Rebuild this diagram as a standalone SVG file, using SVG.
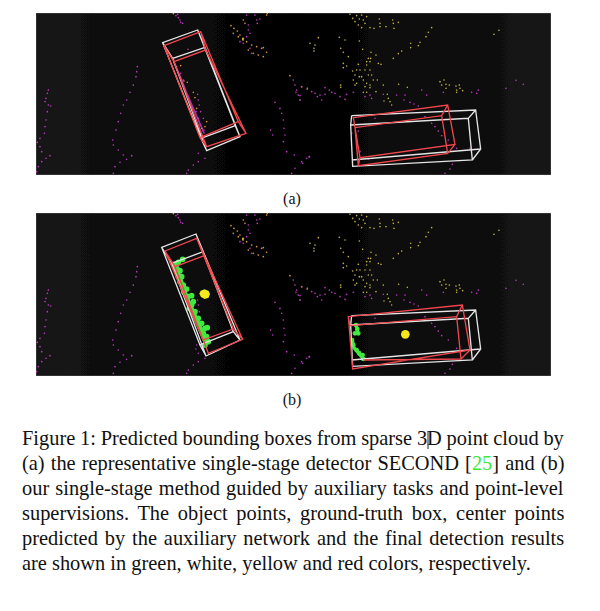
<svg xmlns="http://www.w3.org/2000/svg" width="600" height="611" viewBox="0 0 600 611">
<style>
.cap{font-family:"Liberation Serif","Times New Roman",serif;font-size:20.4px;fill:#111}
.lab{font-family:"Liberation Serif","Times New Roman",serif;font-size:16px;fill:#111;text-anchor:middle}
.m{fill:none;stroke:#bc38c4;stroke-width:5;stroke-linecap:round}
.y{fill:none;stroke:#bcaa48;stroke-width:5;stroke-linecap:round}
.o{fill:none;stroke:#d89634;stroke-width:5;stroke-linecap:round}
.w{fill:none;stroke:#e4e4e4;stroke-width:4}
.r{fill:none;stroke:#f0474e;stroke-width:4}
.g{fill:none;stroke:#3fe83f;stroke-width:17;stroke-linecap:round}
</style>
<defs>
<linearGradient id="bg" x1="0" x2="1" y1="0" y2="0">
<stop offset="0" stop-color="#161616"/><stop offset=".25" stop-color="#0a0a0a"/><stop offset=".5" stop-color="#020202"/><stop offset=".8" stop-color="#0c0c0c"/><stop offset="1" stop-color="#161616"/>
</linearGradient>
<filter id="soft" x="0" y="0" width="1" height="1"><feGaussianBlur stdDeviation="0.35"/></filter>
<g id="cloud">
<g transform="translate(30,5) scale(.3333)">
<path class="m" d="M55 255h0M52 265h0M48 280h0M45 290h0M55 300h0M62 303h0M52 320h0M48 345h0M45 365h0M43 385h0M30 400h0M22 412h0M30 425h0M35 440h0M60 452h0M48 460h0M35 470h0M25 485h0M20 500h0M322 185h0M320 200h0M318 215h0M310 240h0M300 262h0M290 285h0M280 300h0M272 325h0M265 350h0M258 375h0M248 405h0M250 420h0M265 435h0M280 450h0M305 452h0M290 463h0M270 472h0M255 485h0M250 505h0M438 32h0M445 38h0M450 45h0M458 55h0M443 28h0M452 52h0M525 460h0M505 470h0M490 480h0M475 495h0M470 505h0M525 415h0M505 445h0M735 292h0M750 310h0M755 325h0M760 345h0M762 370h0M765 390h0M760 410h0M770 440h0M793 450h0M722 375h0M728 390h0M838 455h0M815 470h0M795 490h0M785 505h0M790 225h0M795 240h0M800 255h0M805 270h0M810 285h0M798 262h0M650 30h0M655 60h0M660 85h0M640 115h0M660 130h0M675 30h0M680 45h0M690 42h0M682 55h0M655 75h0M650 95h0M630 110h0M665 145h0"/>
<path class="o" d="M430 26h0M780 212h0M815 245h0M832 250h0M710 30h0M712 25h0M603 62h0M612 70h0M622 78h0M610 85h0M630 90h0M640 100h0M650 110h0M665 120h0M680 125h0M695 130h0M710 142h0M685 150h0M700 155h0M670 145h0M655 135h0M640 45h0M645 55h0M625 95h0M700 128h0"/>
<path d="M636 98l6 2-1 8-5-2z" fill="#d0b030"/>
</g>
<g transform="translate(300,5) scale(.3333)">
<path class="y" d="M150 28h0M158 40h0M165 50h0M170 32h0M178 42h0M185 30h0M190 45h0M175 60h0M185 68h0M200 35h0M195 55h0M210 68h0M222 70h0M238 42h0M240 55h0M240 65h0M258 65h0M278 45h0M280 55h0M282 70h0M295 52h0M395 68h0M385 82h0M378 95h0M360 112h0M355 122h0M332 115h0M332 128h0M305 138h0M295 146h0M280 160h0M582 88h0M597 76h0M55 98h0M30 115h0M45 120h0M42 130h0M42 138h0M118 97h0M135 105h0M178 108h0M122 130h0M130 142h0M145 155h0M188 133h0M130 175h0M130 188h0M140 183h0M213 142h0M228 150h0M205 160h0M212 160h0M200 170h0M210 170h0M235 175h0M243 178h0M175 178h0M200 180h0M170 195h0M180 195h0M158 198h0M195 195h0M210 195h0M165 210h0M185 215h0M178 215h0M205 210h0M215 210h0M160 225h0M170 235h0M190 225h0M200 235h0M210 240h0M220 225h0M232 225h0M165 240h0M195 245h0M210 248h0M122 240h0M122 247h0M250 240h0M296 238h0M322 247h0M190 262h0M200 262h0M228 260h0M262 268h0M265 280h0M252 288h0M270 290h0M275 300h0M420 230h0M432 225h0M425 240h0M438 238h0M448 240h0M438 250h0M468 243h0M478 240h0M470 255h0M480 250h0M488 257h0M470 262h0"/>
<path class="m" d="M5 246h0M22 253h0M35 260h0M45 265h0M52 275h0M60 270h0M75 268h0M75 248h0M88 255h0M95 262h0M105 265h0M120 275h0M140 268h0M135 283h0M65 285h0M0 272h0M0 285h0M160 262h0M195 275h0M210 270h0M215 280h0M250 268h0M290 270h0M315 270h0M365 255h0M380 270h0M430 262h0M515 262h0M530 265h0M535 255h0M618 250h0M648 226h0M670 238h0M312 285h0M330 292h0M342 297h0M355 303h0M225 340h0M395 355h0M405 365h0M415 378h0M425 392h0M445 405h0M175 378h0M155 385h0M28 455h0M20 460h0M8 475h0M180 440h0M205 462h0M457 478h0M450 492h0M435 505h0M470 430h0M510 430h0M375 335h0"/>
</g>
</g>
</defs>

<g id="panel-a" filter="url(#soft)">
<rect x="36" y="13" width="515" height="162" fill="url(#bg)" stroke="#777" stroke-width=".6"/>
<use href="#cloud"/>
<g transform="translate(30,5) scale(.3333)">
<path class="m" d="M432 172l20 45 15 40 15 35 14 32 14 32 12 28" stroke-width="7" opacity=".85"/>
<path class="m" d="M440 185h0M452 205h0M460 225h0M474 133h0M503 268h0M505 285h0M508 300h0M512 320h0M520 340h0M498 320h0M505 340h0M488 310h0M510 360h0M522 375h0M515 395h0"/>
<path class="o" d="M452 182h0M462 228h0M472 232h0M490 262h0M495 278h0M500 310h0M530 350h0M515 370h0M525 365h0M480 300h0"/>
<path class="w" d="M398 113L503 75 525 127 428 160ZM513 400L616 362 630 395 530 437ZM398 113L513 400M428 160L530 437M503 75L616 362M525 127L630 395"/>
<path class="r" d="M402 122L512 80 527 135 432 170ZM510 398L625 350 648 385 530 425ZM402 122L510 398M432 170L530 425M512 80L625 350M527 135L648 385"/>
</g>
<g transform="translate(300,5) scale(.3333)">
<path class="w" d="M152 360L505 340 517 465 158 484ZM155 332L527 315 542 432 517 465M155 332L152 360M527 315L505 340M155 465L542 432"/>
<path class="r" d="M160 338L443 300 465 418 180 458ZM165 368L425 332 443 445 175 482ZM160 338L165 368M443 300L425 332M465 418L443 445M180 458L175 482"/>
</g>
</g>

<g id="panel-b" filter="url(#soft)">
<rect x="36" y="213" width="515" height="163" fill="url(#bg)" stroke="#777" stroke-width=".6"/>
<use href="#cloud" transform="translate(0,200)"/>
<g transform="translate(30,205) scale(.3333)">
<path class="m" d="M503 285h0M505 300h0M508 320h0M500 420h0M498 432h0"/>
<path class="g" d="M432 178h0M445 172h0M458 163h0M440 190h0M450 197h0M455 215h0M445 215h0M450 230h0M460 240h0M470 252h0M462 262h0M475 275h0M485 272h0M490 290h0M485 300h0M478 310h0M495 320h0M505 340h0M515 355h0M525 370h0M532 368h0M520 385h0M530 395h0M535 410h0M525 420h0M530 405h0"/>
<path d="M435 180L470 280 530 415" fill="none" stroke="#3fe83f" stroke-width="15"/>
<path d="M430 175L520 410" fill="none" stroke="#a0a040" stroke-width="2"/>
<path d="M512 257l12-4 12 5 4 9-4 11-12 4-11-6-5-10z" fill="#f6e81c"/>
<path class="w" d="M395 127L498 87 520 140 425 175ZM510 420L610 380 630 405 528 453ZM395 127L510 420M425 175L528 453M498 87L610 380M520 140L630 405"/>
<path class="r" d="M405 138L500 100 523 152 435 185ZM520 405L610 372 638 403 535 445ZM405 138L520 405M435 185L535 445M500 100L610 372M523 152L638 403"/>
</g>
<g transform="translate(300,205) scale(.3333)">
<path class="g" d="M168 360h0M172 372h0M175 385h0M165 385h0M156 405h0M160 420h0M170 435h0M178 445h0M188 450h0M190 462h0" style="stroke-width:14"/>
<path d="M168 358L174 388M156 402L162 428 190 462" fill="none" stroke="#3fe83f" stroke-width="10"/>
<circle cx="316" cy="388" r="13" fill="#f6e81c"/>
<path class="w" d="M152 360L505 340 517 465 158 484ZM155 332L527 315 542 432 517 465M155 332L152 360M527 315L505 340M155 465L542 432"/>
<path class="r" d="M145 335L487 300 510 435 158 492ZM150 362L470 335 483 462 190 465M145 335L150 362M487 300L470 335M510 435L483 462"/>
</g>
</g>

<g id="labels">
<text class="lab" x="292" y="204">(a)</text>
<text class="lab" x="292" y="405">(b)</text>
</g>

<g id="caption">
<text class="cap" x="22" y="445" word-spacing="-0.3">Figure 1: Predicted bounding boxes from sparse 3D point cloud by</text>
<text class="cap" x="22" y="470" word-spacing="1">(a) the representative single-stage detector SECOND [<tspan fill="#3fe83f">25</tspan>] and (b)</text>
<text class="cap" x="22" y="495" word-spacing="1">our single-stage method guided by auxiliary tasks and point-level</text>
<text class="cap" x="22" y="520" word-spacing="3.6">supervisions. The object points, ground-truth box, center points</text>
<text class="cap" x="22" y="545" word-spacing="1.8">predicted by the auxiliary network and the final detection results</text>
<text class="cap" x="22" y="570">are shown in green, white, yellow and red colors, respectively.</text>
<path d="M428 431V449" stroke="#222" stroke-width="1"/>
</g>
</svg>
